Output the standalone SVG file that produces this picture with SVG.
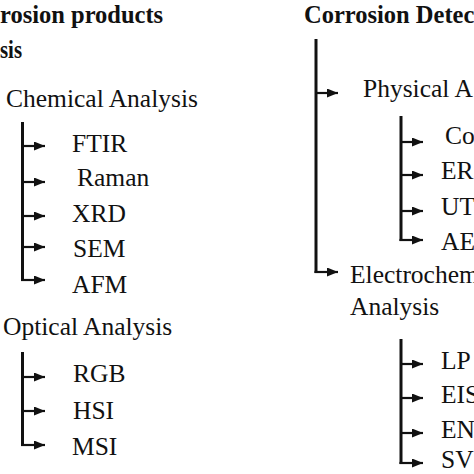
<svg xmlns="http://www.w3.org/2000/svg" width="474" height="474" viewBox="0 0 474 474">
<style>
.t{font-family:"Liberation Serif","Times New Roman",serif;font-size:25.5px;fill:#111}
.b{font-family:"Liberation Serif","Times New Roman",serif;font-size:24.5px;font-weight:bold;fill:#111}
.v{stroke:#111;stroke-width:3;fill:none}
.a{stroke:#111;stroke-width:2.2;fill:none;marker-end:url(#ah)}
</style>
<defs>
<marker id="ah" markerUnits="userSpaceOnUse" markerWidth="12" markerHeight="10" refX="11" refY="4.5" orient="auto">
<path d="M0,0 L11,4.5 L0,9 z" fill="#111"/>
</marker>
</defs>
<rect width="474" height="474" fill="#fff"/>
<g id="title-left"><text class="b" x="0" y="23">rosion products</text><text class="b" x="0" y="58" textLength="22" lengthAdjust="spacingAndGlyphs">sis</text></g>
<g id="title-right"><text class="b" x="304" y="23">Corrosion Detec</text></g>
<g id="chemical"><text class="t" x="6" y="107">Chemical Analysis</text></g>
<g id="ftir"><text class="t" x="72" y="152">FTIR</text></g>
<g id="raman"><text class="t" x="77" y="186">Raman</text></g>
<g id="xrd"><text class="t" x="72" y="222">XRD</text></g>
<g id="sem"><text class="t" x="73" y="257">SEM</text></g>
<g id="afm"><text class="t" x="72" y="293">AFM</text></g>
<g id="optical"><text class="t" x="3" y="335">Optical Analysis</text></g>
<g id="rgb"><text class="t" x="73" y="382">RGB</text></g>
<g id="hsi"><text class="t" x="73" y="419">HSI</text></g>
<g id="msi"><text class="t" x="72" y="455">MSI</text></g>
<g id="physical"><text class="t" x="363" y="97">Physical A</text></g>
<g id="co"><text class="t" x="445" y="144">Co</text></g>
<g id="er"><text class="t" x="441" y="179">ER</text></g>
<g id="ut"><text class="t" x="441" y="215">UT</text></g>
<g id="ae"><text class="t" x="441" y="250">AE</text></g>
<g id="electrochem"><text class="t" x="350" y="283">Electrochem</text><text class="t" x="350" y="315">Analysis</text></g>
<g id="lp"><text class="t" x="441" y="369">LP</text></g>
<g id="eis"><text class="t" x="441" y="403">EIS</text></g>
<g id="en"><text class="t" x="441" y="438">EN</text></g>
<g id="sv"><text class="t" x="441" y="468">SV</text></g>
<g id="connectors">
<path class="v" d="M22.5,122 V281"/>
<path class="a" d="M22.5,146 H45"/>
<path class="a" d="M22.5,182 H45"/>
<path class="a" d="M22.5,216 H45"/>
<path class="a" d="M22.5,247 H45"/>
<path class="a" d="M21,280 H45"/>
<path class="v" d="M22.5,352 V446"/>
<path class="a" d="M22.5,377 H45"/>
<path class="a" d="M22.5,411 H45"/>
<path class="a" d="M21,445 H45"/>
<path class="v" d="M316,39 V273"/>
<path class="a" d="M316,93 H338"/>
<path class="a" d="M314.5,272 H338"/>
<path class="v" d="M401,116 V241"/>
<path class="a" d="M401,142 H423"/>
<path class="a" d="M401,175 H423"/>
<path class="a" d="M401,211 H423"/>
<path class="a" d="M399.5,240 H423"/>
<path class="v" d="M401,339 V464"/>
<path class="a" d="M401,364 H423"/>
<path class="a" d="M401,398 H423"/>
<path class="a" d="M401,433 H423"/>
<path class="a" d="M399.5,463 H423"/>
</g>
</svg>
